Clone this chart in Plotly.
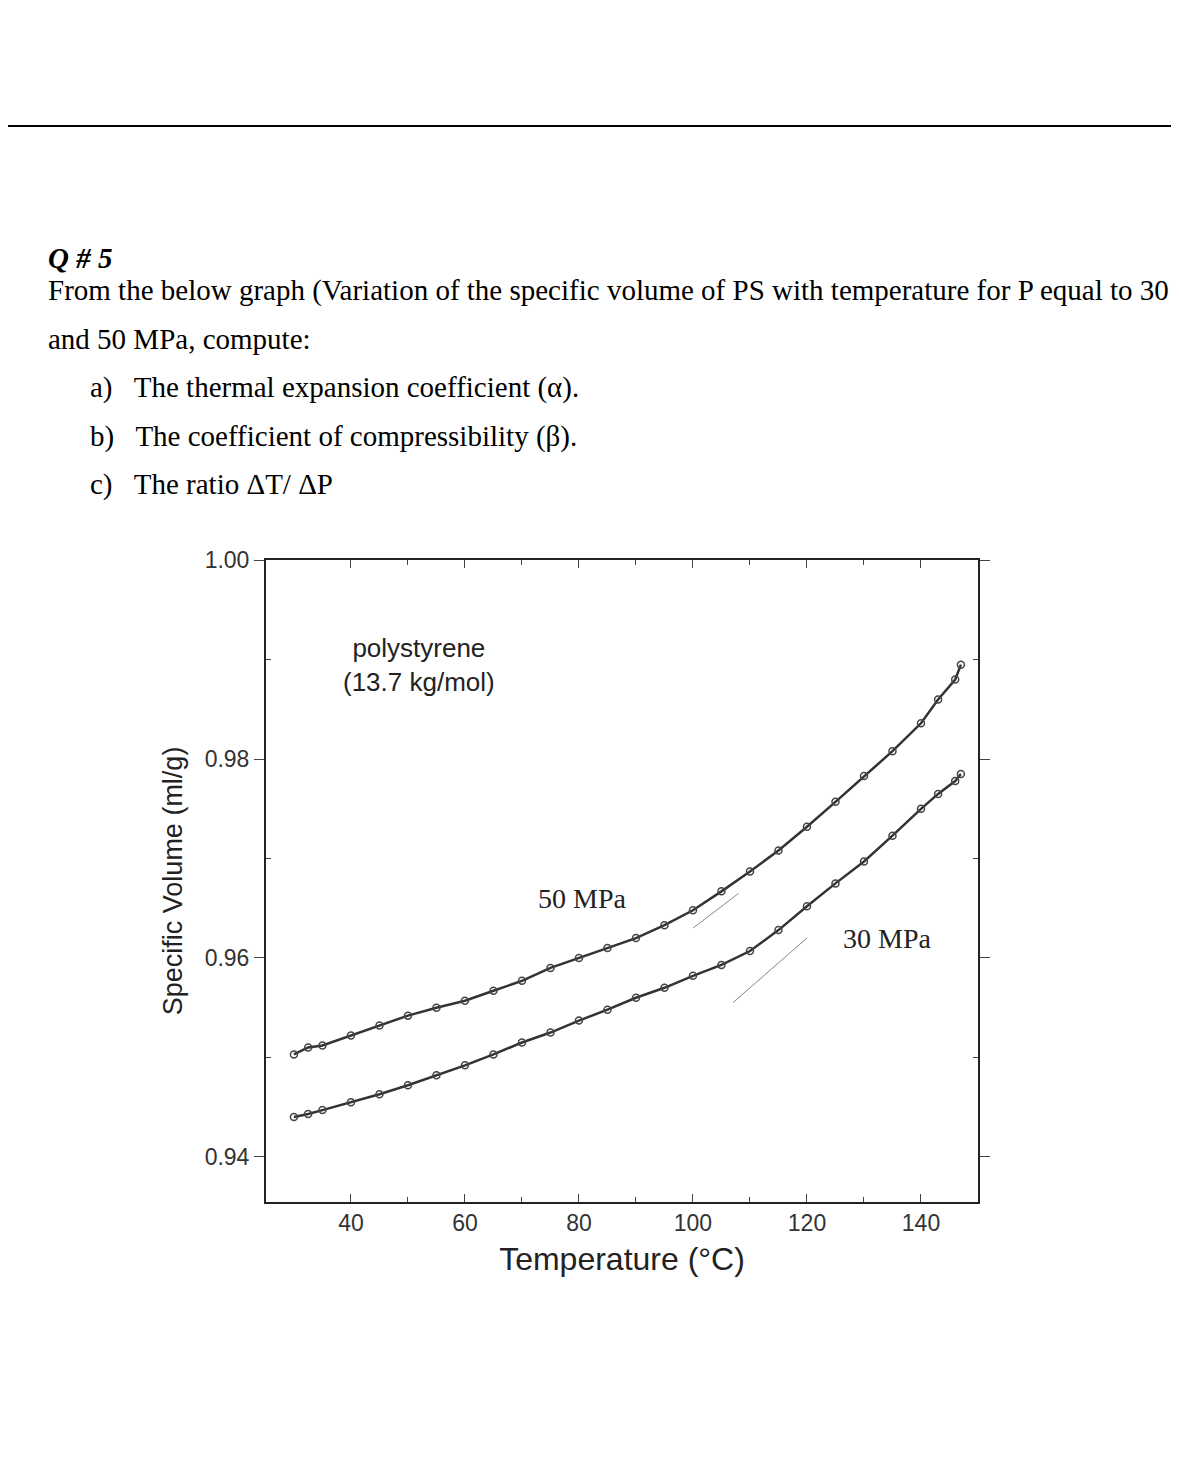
import plotly.graph_objects as go

# readings
temp = [30, 32.5, 35, 40, 45, 50, 55, 60, 65, 70, 75, 80, 85, 90, 95, 100, 105, 110,
        115, 120, 125, 130, 135, 140, 143, 146, 147]
v50 = [0.9503, 0.9510, 0.9512, 0.9522, 0.9532, 0.9542, 0.9550, 0.9557, 0.9567, 0.9577,
       0.9590, 0.9600, 0.9610, 0.9620, 0.9633, 0.9648, 0.9667, 0.9687, 0.9708, 0.9732,
       0.9757, 0.9783, 0.9808, 0.9836, 0.9860, 0.9880, 0.9895]
v30 = [0.9440, 0.9443, 0.9447, 0.9455, 0.9463, 0.9472, 0.9482, 0.9492, 0.9503, 0.9515,
       0.9525, 0.9537, 0.9548, 0.9560, 0.9570, 0.9582, 0.9593, 0.9607, 0.9628, 0.9652,
       0.9675, 0.9697, 0.9723, 0.9750, 0.9765, 0.9778, 0.9785]
tan50_x, tan50_y = [100, 108], [0.9630, 0.9665]
tan30_x, tan30_y = [107, 120], [0.9555, 0.9620]

fig = go.Figure()
for ys in (v50, v30):
    fig.add_trace(go.Scatter(x=temp, y=ys, mode='lines+markers',
                             line=dict(color='#333', width=2.5),
                             marker=dict(symbol='circle-open', size=7, color='#444', line=dict(width=1.5))))
for tx, ty in ((tan50_x, tan50_y), (tan30_x, tan30_y)):
    fig.add_trace(go.Scatter(x=tx, y=ty, mode='lines', line=dict(color='#888', width=1)))

serif = 'Liberation Serif'
sans = 'Liberation Sans'
ann = []
def txt(x, y, s, size=29, fam=serif, anchor='left'):
    ann.append(dict(x=(x - 10) / 1179, y=1 - (y - 16) / 1484, xref='paper', yref='paper', text=s,
                    showarrow=False, xanchor=anchor, yanchor='middle',
                    font=dict(family=fam, size=size, color='black')))

txt(48, 255, '<b><i>Q # 5</i></b>')
txt(48, 288, 'From the below graph (Variation of the specific volume of PS with temperature for P equal to 30')
txt(48, 337, 'and 50 MPa, compute:')
txt(90, 386, 'a)   The thermal expansion coefficient (α).')
txt(90, 435, 'b)   The coefficient of compressibility (β).')
txt(90, 484, 'c)   The ratio ΔT/ ΔP')

fig.add_annotation(x=52, y=0.9895, text='polystyrene<br>(13.7 kg/mol)', showarrow=False,
                   font=dict(family=sans, size=26, color='#222'))
fig.add_annotation(x=80.5, y=0.9660, text='50 MPa', showarrow=False,
                   font=dict(family=serif, size=28, color='#222'))
fig.add_annotation(x=134, y=0.9620, text='30 MPa', showarrow=False,
                   font=dict(family=serif, size=28, color='#222'))

line_y = 1 - (123 - 17) / 1484
fig.update_layout(
    width=1179, height=1484, margin=dict(l=0, r=0, t=0, b=0),
    paper_bgcolor='white', plot_bgcolor='white', showlegend=False,
    annotations=fig.layout.annotations + tuple(ann),
    shapes=[dict(type='line', xref='paper', yref='paper', x0=-0.01, x1=1.01,
                 y0=line_y, y1=line_y, line=dict(color='black', width=2))],
    xaxis=dict(domain=[258 / 1179, 970 / 1179], range=[25.1, 150], tickvals=[40, 60, 80, 100, 120, 140],
               ticks='inside', ticklen=8, mirror='ticks', showline=True, linecolor='#222', linewidth=2,
               showgrid=False, zeroline=False, tickfont=dict(family=sans, size=23, color='#333'),
               minor=dict(tickvals=[50, 70, 90, 110, 130], ticks='inside', ticklen=5),
               title=dict(text='Temperature (°C)', font=dict(family=sans, size=32, color='#222'), standoff=12)),
    yaxis=dict(domain=[1 - 1191 / 1484, 1 - 544 / 1484], range=[0.9355, 1.0],
               tickvals=[0.94, 0.96, 0.98, 1.00], ticktext=['0.94', '0.96', '0.98', '1.00'],
               ticks='outside', ticklen=10, mirror='ticks', showline=True, linecolor='#222', linewidth=2,
               showgrid=False, zeroline=False, tickfont=dict(family=sans, size=23, color='#333'),
               minor=dict(tickvals=[0.95, 0.97, 0.99], ticks='inside', ticklen=5),
               title=dict(text='Specific Volume (ml/g)', font=dict(family=sans, size=27, color='#222'), standoff=14)),
)
fig.write_html("out.html")
